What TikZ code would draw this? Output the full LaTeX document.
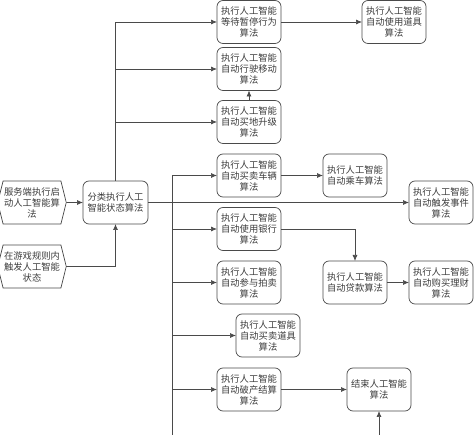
\documentclass[tikz,border=0pt]{standalone}
\usepackage{fontspec}
\usepackage{tikz}
\usetikzlibrary{positioning,shapes.symbols,arrows.meta}
\newfontfamily\cjk{Noto Sans CJK SC}
\definecolor{linegray}{HTML}{4A4A4A}
\definecolor{textgray}{HTML}{3C3C3C}

\begin{document}
\begin{tikzpicture}[x=1pt,y=1pt,
        font=\cjk\fontsize{9.3}{11}\selectfont,
    ]
    \tikzstyle{box} = [draw=linegray, line width=0.7pt, rounded corners=6pt, text=textgray,
        minimum width=64pt, minimum height=43pt, inner sep=1pt, outer sep=0pt, align=center];
    \tikzstyle{hexbox} = [draw=linegray, line width=0.7pt, signal, signal to=west and east,
        signal pointer angle=152, text=textgray, minimum width=64pt, minimum height=43pt,
        inner sep=1pt, outer sep=0pt, align=center];
    \tikzstyle{arr} = [draw=linegray, line width=0.7pt, -{Latex[length=6pt,width=5pt]}];
    \useasboundingbox (0,0) rectangle (474,-435);
    \node [hexbox] (srv) at (32,-202.5) {服务端执行启\\动人工智能算\\法};
    \node [hexbox] (rule) at (32,-266.5) {在游戏规则内\\触发人工智能\\状态};
    \node [box, minimum width=65pt] (cls) at (115.5,-202.5) {分类执行人工\\智能状态算法};
    \node [box] (wait) at (249,-22) {执行人工智能\\等待暂停行为\\算法};
    \node [box] (drive) at (249,-69) {执行人工智能\\自动行驶移动\\算法};
    \node [box] (land) at (249,-122) {执行人工智能\\自动买地升级\\算法};
    \node [box] (car) at (249,-175.5) {执行人工智能\\自动买卖车辆\\算法};
    \node [box] (bank) at (249,-229) {执行人工智能\\自动使用银行\\算法};
    \node [box] (auct) at (249,-282.5) {执行人工智能\\自动参与拍卖\\算法};
    \node [box] (trade) at (268,-335.5) {执行人工智能\\自动买卖道具\\算法};
    \node [box] (bust) at (249,-389.5) {执行人工智能\\自动破产结算\\算法};
    \node [box, right = 81pt of wait] (useitem) {执行人工智能\\自动使用道具\\算法};
    \node [box, right = 42pt of car] (ride) {执行人工智能\\自动乘车算法};
    \node [box, below = 64pt of ride] (loan) {执行人工智能\\自动贷款算法};
    \node [box, right = 22pt of loan] (fin) {执行人工智能\\自动购买理财\\算法};
    \node [box] (event) at (441,-202.5) {执行人工智能\\自动触发事件\\算法};
    \node [box, right = 66pt of bust] (end) {结束人工智能\\算法};
    \coordinate (bot) at (172,-435);
    \coordinate (endin) at (379,-435);
    \draw [arr] (srv) -- (cls);
    \draw [arr] (rule.east) -| (cls.south);
    \draw [arr] (cls.north) |- (wait.west);
    \draw [arr] (cls.north) |- (drive.west);
    \draw [arr] (cls.north) |- (land.west);
    \draw [arr] (cls.east) -- (event.west);
    \draw [arr] (bot) |- (car.west);
    \draw [arr] (bot) |- (bank.west);
    \draw [arr] (bot) |- (auct.west);
    \draw [arr] (bot) |- (trade.west);
    \draw [arr] (bot) |- (bust.west);
    \draw [arr] (wait) -- (useitem);
    \draw [arr] (land) -- (drive);
    \draw [arr] (car) -- (ride);
    \draw [arr] (bank.east) -| (loan.north);
    \draw [arr] (loan) -- (fin);
    \draw [arr] (bust) -- (end);
    \draw [arr] (endin) -- (end.south);
\end{tikzpicture}
\end{document}
